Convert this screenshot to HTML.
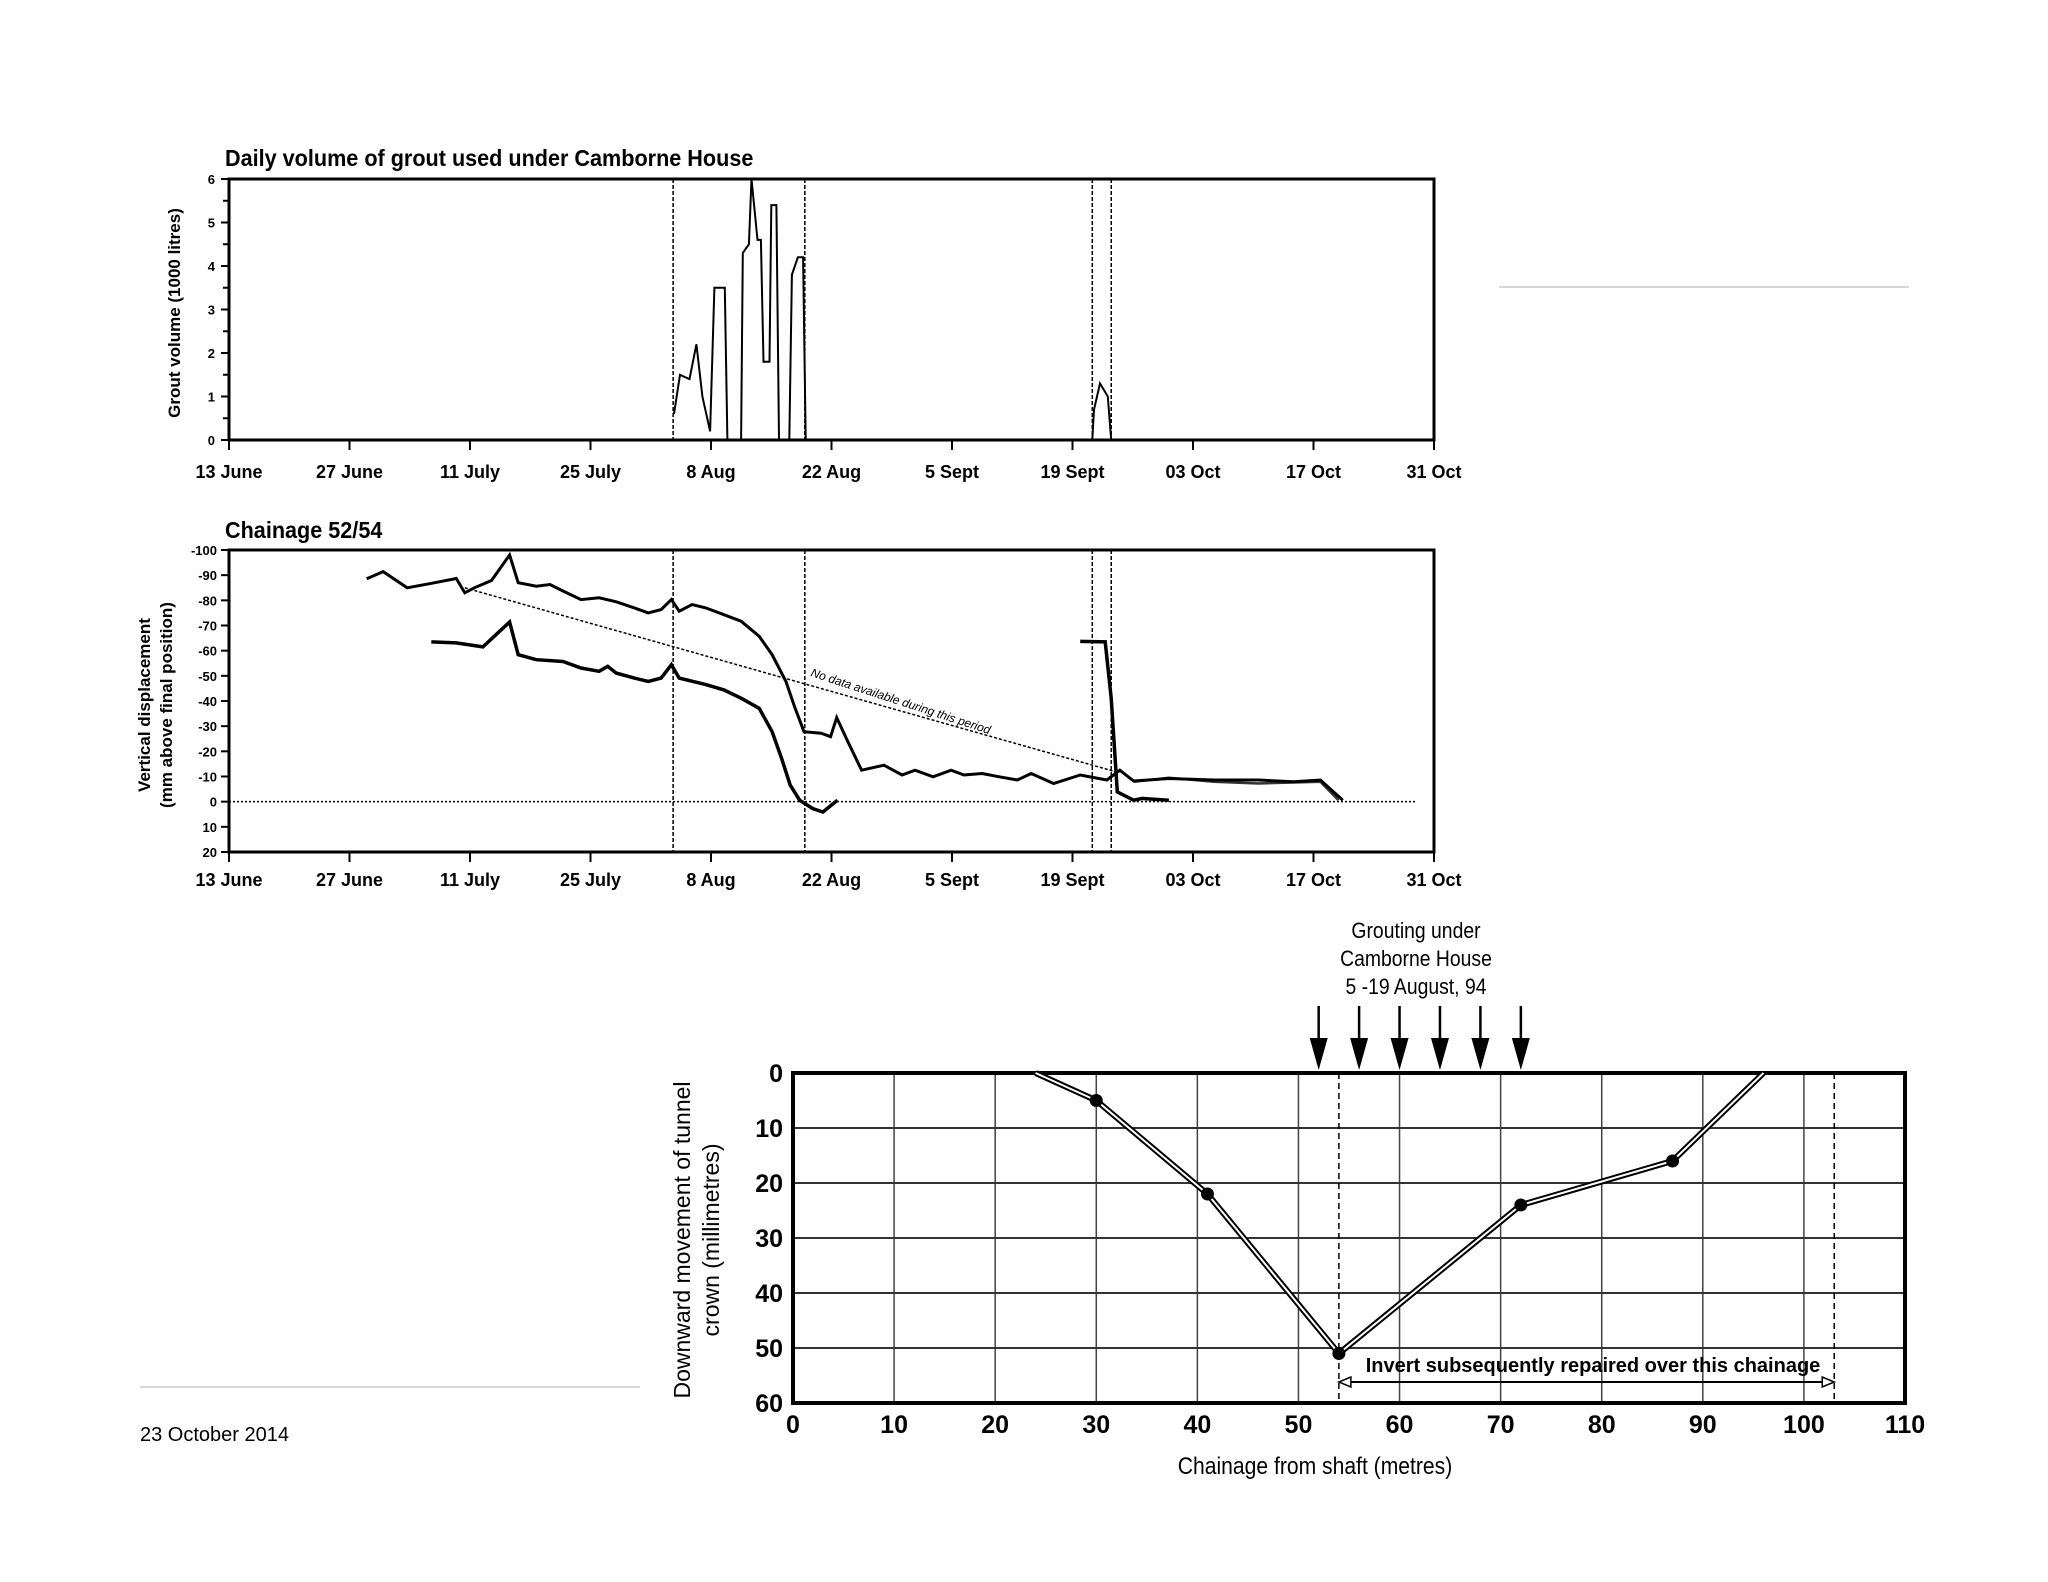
<!DOCTYPE html>
<html><head><meta charset="utf-8"><style>
html,body{margin:0;padding:0;background:#fff}
svg{display:block}
.c{font-family:"Liberation Sans Narrow","Liberation Sans",sans-serif;font-weight:bold}
.a{font-family:"Liberation Sans",sans-serif}
</style></head><body>
<svg id="s" width="2048" height="1582" viewBox="0 0 2048 1582" xmlns="http://www.w3.org/2000/svg">
<line x1="1499" y1="287" x2="1909" y2="287" stroke="#ccc" stroke-width="1.5"/>
<line x1="140" y1="1387" x2="640" y2="1387" stroke="#ccc" stroke-width="1.5"/>
<text x="140" y="1441" class="a" font-size="20">23 October 2014</text>
<g id="g1"></g>
<g id="g2"></g>
<g id="g3"></g>
</svg>
<script>
const dateLabels=["13 June","27 June","11 July","25 July","8 Aug","22 Aug","5 Sept","19 Sept","03 Oct","17 Oct","31 Oct"];
const groutTicks=[0,1,2,3,4,5,6];
const groutDays=[51.7,52.4,53.5,54.3,55.0,55.9,56.4,57.6,57.9,59.5,59.7,60.4,60.7,61.4,61.8,62.1,62.8,63.0,63.6,63.9,65.1,65.4,66.1,66.7,67.0];
const groutVals=[0.6,1.5,1.4,2.2,1.0,0.2,3.5,3.5,0,0,4.3,4.5,6.0,4.6,4.6,1.8,1.8,5.4,5.4,0,0,3.8,4.2,4.2,0];
const groutDays2=[100.3,100.5,101.2,102.1,102.5];
const groutVals2=[0,0.7,1.3,1.0,0];
const periodDays=[51.6,66.9,100.3,102.5];
const dispTicks=[-100,-90,-80,-70,-60,-50,-40,-30,-20,-10,0,10,20];
const aDays=[16.0,17.9,20.7,23.3,25.9,26.4,27.4,28.5,30.5,32.6,33.6,35.7,37.3,38.8,40.9,43.0,45.0,47.1,48.7,50.2,51.4,52.3,53.8,55.4,57.5,59.5,61.6,63.1,64.7,65.7,66.8,68.8,69.9,70.6,71.9,73.5,76.1,78.2,79.7,81.8,83.9,85.4,87.5,89.5,91.6,93.2,95.8,98.9,102.0,103.5,105.1,109.2,114.4,119.6,123.7,126.8,129.4];
const aVals=[-88.6,-91.4,-85.0,-86.6,-88.3,-88.7,-83.0,-85.0,-87.9,-98.0,-87.0,-85.6,-86.3,-83.7,-80.3,-81.0,-79.4,-77.0,-75.0,-76.3,-80.3,-75.7,-78.3,-77.0,-74.3,-71.7,-65.7,-58.4,-47.8,-37.8,-27.8,-27.2,-25.8,-33.4,-23.8,-12.5,-14.5,-10.6,-12.5,-9.9,-12.5,-10.6,-11.2,-9.9,-8.6,-11.2,-7.2,-10.6,-8.6,-12.5,-8.2,-9.2,-8.6,-8.6,-7.9,-8.6,-0.6];
const bDays=[23.5,26.4,29.5,32.6,33.6,35.7,38.8,40.9,43.0,44.0,45.0,47.1,48.7,50.2,51.4,52.3,55.4,57.5,59.5,61.6,63.1,64.2,65.2,66.3,67.8,69.0,70.7];
const bVals=[-63.5,-63.1,-61.5,-71.4,-58.4,-56.4,-55.7,-53.1,-51.8,-53.8,-51.1,-49.1,-47.8,-49.1,-54.4,-49.1,-46.5,-44.4,-41.1,-37.1,-27.8,-17.2,-6.6,-0.6,2.7,4.1,-0.6];
const cDays=[98.9,101.8,102.5,103.2,105.1,106.1,109.2];
const cVals=[-63.7,-63.5,-41.1,-3.9,-0.6,-1.3,-0.6];
const dDays=[105.1,109.2,114.4,119.6,126.8,128.9];
const dVals=[-7.9,-9.5,-7.9,-7.2,-7.9,-0.6];
const trendDays=[27.4,103.0];
const trendVals=[-85,-11.9];
const chainTicks=[0,10,20,30,40,50,60,70,80,90,100,110];
const moveTicks=[0,10,20,30,40,50,60];
const chainX=[24,30,41,54,72,87,96];
const moveY=[0,5,22,51,24,16,0];
const markX=[30,41,54,72,87];
const markY=[5,22,51,24,16];
const arrowX=[52,56,60,64,68,72];
const repairRange=[54,103];

const NS="http://www.w3.org/2000/svg";
function mk(p,tag,at,txt){const e=document.createElementNS(NS,tag);for(const k in at)e.setAttribute(k,at[k]);if(txt!==undefined)e.textContent=txt;p.appendChild(e);return e;}
const L=229,R=1434;
const X=d=>L+d/140*(R-L);
const Y1=v=>440-v/6*261;
const Y2=v=>550+(v+100)/120*302;
const pts=(xs,ys,fx,fy)=>xs.map((x,i)=>fx(x).toFixed(1)+","+fy(ys[i]).toFixed(1)).join(" ");

// Chart 1
const g1=document.getElementById('g1');
let e;
e=mk(g1,'text',{x:225,y:166,'font-size':23,class:'c',transform:'translate(13.5,0) scale(0.94,1)'},"Daily volume of grout used under Camborne House");

e=mk(g1,'rect',{x:L,y:179,width:R-L,height:261,fill:'none',stroke:'#000','stroke-width':3});

groutTicks.forEach(v=>{
  e=mk(g1,'line',{x1:L-8,x2:L,y1:Y1(v),y2:Y1(v),stroke:'#000','stroke-width':2});
  
  if(v<6){e=mk(g1,'line',{x1:L-6,x2:L,y1:Y1(v+0.5),y2:Y1(v+0.5),stroke:'#000','stroke-width':2});
  }
  e=mk(g1,'text',{x:L-14,y:Y1(v)+5,'font-size':13,class:'c','text-anchor':'end'},String(v));
  
});
dateLabels.forEach((t,i)=>{
  e=mk(g1,'line',{x1:X(i*14),x2:X(i*14),y1:440,y2:450,stroke:'#000','stroke-width':2});
  
  e=mk(g1,'text',{x:X(i*14),y:478,'font-size':18,class:'c','text-anchor':'middle'},t);
  
});
e=mk(g1,'text',{x:0,y:0,'font-size':17,class:'c','text-anchor':'middle',transform:'translate(180,313) rotate(-90)'},"Grout volume (1000 litres)");

periodDays.forEach(d=>{
  e=mk(g1,'line',{x1:X(d),x2:X(d),y1:179,y2:440,stroke:'#000','stroke-width':1.5,'stroke-dasharray':'4,2'});
  
});
e=mk(g1,'polyline',{points:pts(groutDays,groutVals,X,Y1),fill:'none',stroke:'#000','stroke-width':2});

e=mk(g1,'polyline',{points:pts(groutDays2,groutVals2,X,Y1),fill:'none',stroke:'#000','stroke-width':2});


// Chart 2
const g2=document.getElementById('g2');
e=mk(g2,'text',{x:225,y:538,'font-size':23,class:'c',transform:'translate(13.5,0) scale(0.94,1)'},"Chainage 52/54");

e=mk(g2,'rect',{x:L,y:550,width:R-L,height:302,fill:'none',stroke:'#000','stroke-width':3});

dispTicks.forEach(v=>{
  e=mk(g2,'line',{x1:L-8,x2:L,y1:Y2(v),y2:Y2(v),stroke:'#000','stroke-width':2});
  
  e=mk(g2,'text',{x:L-12,y:Y2(v)+5,'font-size':13,class:'c','text-anchor':'end'},String(v));
  
});
dateLabels.forEach((t,i)=>{
  e=mk(g2,'line',{x1:X(i*14),x2:X(i*14),y1:852,y2:862,stroke:'#000','stroke-width':2});
  
  e=mk(g2,'text',{x:X(i*14),y:886,'font-size':18,class:'c','text-anchor':'middle'},t);
  
});
e=mk(g2,'text',{x:0,y:0,'font-size':17,class:'c','text-anchor':'middle',transform:'translate(150,705) rotate(-90)'},"Vertical displacement");

e=mk(g2,'text',{x:0,y:0,'font-size':17,class:'c','text-anchor':'middle',transform:'translate(172,705) rotate(-90)'},"(mm above final position)");

periodDays.forEach(d=>{
  e=mk(g2,'line',{x1:X(d),x2:X(d),y1:550,y2:852,stroke:'#000','stroke-width':1.5,'stroke-dasharray':'4,2'});
  
});
e=mk(g2,'line',{x1:L,x2:X(138),y1:Y2(0),y2:Y2(0),stroke:'#000','stroke-width':1.5,'stroke-dasharray':'2,2'});

e=mk(g2,'polyline',{points:pts(trendDays,trendVals,X,Y2),fill:'none',stroke:'#000','stroke-width':1.5,'stroke-dasharray':'3,2'});

e=mk(g2,'text',{x:0,y:0,'font-size':12,class:'a','font-style':'italic',transform:'translate(810,676) rotate(18)'},"No data  available during this period");

e=mk(g2,'polyline',{points:pts(dDays,dVals,X,Y2),fill:'none',stroke:'#333','stroke-width':2.5});

e=mk(g2,'polyline',{points:pts(aDays,aVals,X,Y2),fill:'none',stroke:'#000','stroke-width':3});

e=mk(g2,'polyline',{points:pts(bDays,bVals,X,Y2),fill:'none',stroke:'#000','stroke-width':3.5});

e=mk(g2,'polyline',{points:pts(cDays,cVals,X,Y2),fill:'none',stroke:'#000','stroke-width':3.5});


// Chart 3
const g3=document.getElementById('g3');
const L3=793,R3=1905,T3=1073,B3=1403;
const X3=m=>L3+m/110*(R3-L3);
const Y3=v=>T3+v/60*(B3-T3);
chainTicks.forEach(m=>{
  if(m>0&&m<110){e=mk(g3,'line',{x1:X3(m),x2:X3(m),y1:T3,y2:B3,stroke:'#444','stroke-width':1.5});
  }
  e=mk(g3,'text',{x:X3(m),y:1433,'font-size':25,class:'a','font-weight':'bold','text-anchor':'middle'},String(m));
  
});
moveTicks.forEach(v=>{
  if(v>0&&v<60){e=mk(g3,'line',{x1:L3,x2:R3,y1:Y3(v),y2:Y3(v),stroke:'#333','stroke-width':2});
  }
  e=mk(g3,'text',{x:L3-10,y:Y3(v)+9,'font-size':25,class:'a','font-weight':'bold','text-anchor':'end'},String(v));
  
});
repairRange.forEach(m=>{
  e=mk(g3,'line',{x1:X3(m),x2:X3(m),y1:T3,y2:B3,stroke:'#000','stroke-width':1.5,'stroke-dasharray':'6,4'});
  
});
e=mk(g3,'rect',{x:L3,y:T3,width:R3-L3,height:B3-T3,fill:'none',stroke:'#000','stroke-width':4});

arrowX.forEach(m=>{
  const x=X3(m);
  e=mk(g3,'line',{x1:x,x2:x,y1:1006,y2:1045,stroke:'#000','stroke-width':2.5});
  
  e=mk(g3,'polygon',{points:`${x-9},1038 ${x+9},1038 ${x},1070`,fill:'#000'});
  
});
["Grouting under","Camborne House","5 -19 August, 94"].forEach((t,i)=>{
  e=mk(g3,'text',{x:1416,y:938+i*28,'font-size':22,class:'a','text-anchor':'middle',transform:`translate(${1416*0.12},0) scale(0.88,1)`},t);
  
});
e=mk(g3,'polyline',{points:pts(chainX,moveY,X3,Y3),fill:'none',stroke:'#000','stroke-width':6,'stroke-linejoin':'round'});

e=mk(g3,'polyline',{points:pts(chainX,moveY,X3,Y3),fill:'none',stroke:'#fff','stroke-width':2,'stroke-linejoin':'round'});

markX.forEach((m,i)=>{
  e=mk(g3,'circle',{cx:X3(m),cy:Y3(markY[i]),r:6.5,fill:'#000'});
  
});
e=mk(g3,'text',{x:1593,y:1372,'font-size':20,class:'c','text-anchor':'middle'},"Invert subsequently repaired  over this chainage");

const ax1=X3(repairRange[0]),ax2=X3(repairRange[1]);
e=mk(g3,'line',{x1:ax1+10,x2:ax2-10,y1:1382,y2:1382,stroke:'#000','stroke-width':2});

e=mk(g3,'polygon',{points:`${ax1},1382 ${ax1+12},1377 ${ax1+12},1387`,fill:'#fff',stroke:'#000','stroke-width':1.5});

e=mk(g3,'polygon',{points:`${ax2},1382 ${ax2-12},1377 ${ax2-12},1387`,fill:'#fff',stroke:'#000','stroke-width':1.5});

e=mk(g3,'text',{x:0,y:0,'font-size':23,class:'a','text-anchor':'middle',transform:'translate(690,1240) rotate(-90)'},"Downward movement of tunnel");

e=mk(g3,'text',{x:0,y:0,'font-size':23,class:'a','text-anchor':'middle',transform:'translate(719,1240) rotate(-90)'},"crown  (millimetres)");

e=mk(g3,'text',{x:1315,y:1474,'font-size':24,class:'a','text-anchor':'middle',transform:`translate(${1315*0.12},0) scale(0.88,1)`},"Chainage from shaft (metres)");

</script>
</body></html>
